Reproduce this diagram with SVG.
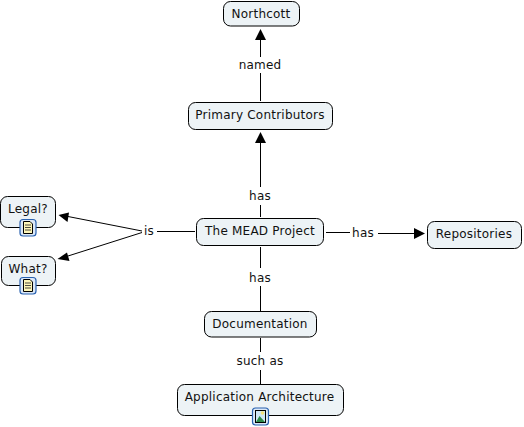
<svg xmlns="http://www.w3.org/2000/svg" width="524" height="427" viewBox="0 0 524 427">
<style>
.n{fill:#edf3f6;stroke:#000;stroke-width:1}
.t{font-family:"DejaVu Sans",sans-serif;font-size:12px;letter-spacing:.22px;fill:#111;text-anchor:middle}
.c{fill:none;stroke:#000;stroke-width:1}
.a{fill:#000;stroke:none}
.ib{fill:#dbe8f8;stroke:#2a62b0;stroke-width:1.200}
.doc{fill:#fdf6b8;stroke:#000;stroke-width:1}
.dl{stroke:#222;stroke-width:.8;fill:none}
</style>
<rect width="524" height="427" fill="#fff"/>
<g id="connectors">
<path class="c" d="M260.500 101V73M260.500 57V39M260.500 217V205M260.500 187V142M260.500 247V268M260.500 286V311M260.500 338V352M260.500 370V384M326 232.500H350M378 233.500H415M157 231.500H195M142 231L68 216.500M142 232.500L68 256"/>
<path class="a" d="M260.500 29L266 40H255Z"/>
<path class="a" d="M260.500 132L266 143H255Z"/>
<path class="a" d="M425 233.500L414 228V239Z"/>
<path class="a" d="M58.500 215L69 212.500L67.500 222Z"/>
<path class="a" d="M57.500 259L67 252.500L69.500 261Z"/>
<text class="t" x="260" y="69">named</text>
<text class="t" x="260" y="200">has</text>
<text class="t" x="260" y="282">has</text>
<text class="t" x="363" y="237">has</text>
<text class="t" x="149" y="235">is</text>
<text class="t" x="260" y="365">such as</text>
</g>
<g id="northcott"><rect class="n" x="223.500" y="1.500" width="76" height="24.500" rx="7"/><text class="t" x="261" y="18">Northcott</text></g>
<g id="primary-contributors"><rect class="n" x="188.500" y="102.500" width="144" height="27" rx="7"/><text class="t" x="260" y="119">Primary Contributors</text></g>
<g id="mead-project"><rect class="n" x="196.500" y="218.500" width="127" height="27" rx="7"/><text class="t" x="260" y="235">The MEAD Project</text></g>
<g id="repositories"><rect class="n" x="427.500" y="221.500" width="94" height="27" rx="7"/><text class="t" x="474" y="238">Repositories</text></g>
<g id="documentation"><rect class="n" x="204.500" y="311.500" width="112" height="25.500" rx="7"/><text class="t" x="260" y="328">Documentation</text></g>
<g id="application-architecture"><rect class="n" x="177.500" y="384.500" width="166" height="31" rx="7"/><text class="t" x="259.500" y="401">Application Architecture</text>
<rect class="ib" x="252.500" y="408" width="16" height="17" rx="3"/><rect x="255.500" y="410.500" width="10" height="12" fill="#cfe6f5" stroke="#000" stroke-width="1"/><circle cx="262.500" cy="413" r="1.800" fill="#f5e27a"/><path d="M256 422L259.500 416L265 422Z" fill="#2e8b4a"/></g>
<g id="legal"><rect class="n" x="0.500" y="196.500" width="55" height="31" rx="7"/><text class="t" x="28" y="213">Legal?</text>
<rect class="ib" x="20" y="219.500" width="16" height="16.500" rx="3"/><path class="doc" d="M23.500 221.500H30L32.500 224V233.500H23.500Z"/><path class="dl" d="M25 225H31M25 227.500H31M25 230H31"/></g>
<g id="what"><rect class="n" x="1.500" y="256.500" width="54" height="29" rx="7"/><text class="t" x="28" y="273">What?</text>
<rect class="ib" x="20" y="277.500" width="16" height="16.500" rx="3"/><path class="doc" d="M23.500 279.500H30L32.500 282V291.500H23.500Z"/><path class="dl" d="M25 283H31M25 285.500H31M25 288H31"/></g>
</svg>
